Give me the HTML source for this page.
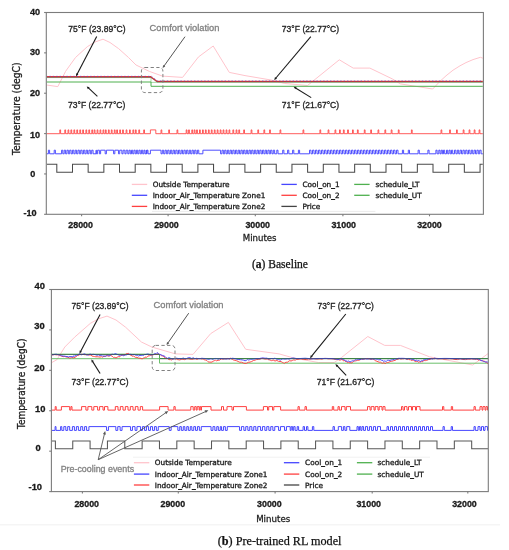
<!DOCTYPE html>
<html><head><meta charset="utf-8"><style>html,body{margin:0;padding:0;background:#fff;}svg{display:block}</style></head>
<body><svg width="509" height="550" viewBox="0 0 509 550">
<rect x="0" y="0" width="509" height="550" fill="#ffffff"/>
<clipPath id="ca"><rect x="46.8" y="12.5" width="436" height="201"/></clipPath>
<g clip-path="url(#ca)">
<polyline points="46.50,85.00 57.80,86.60 65.60,71.30 75.50,57.50 87.30,46.70 95.00,42.00 103.00,39.20 110.00,42.50 118.70,48.70 128.50,57.50 136.00,65.00 149.60,71.50 162.50,76.10 182.60,77.40 198.40,57.00 213.20,46.00 229.30,72.40 245.00,75.60 271.00,80.00 284.80,83.50 307.50,85.50 339.30,59.80 353.20,68.10 369.90,68.10 392.50,79.00 400.40,83.90 432.70,89.00 440.00,81.30 446.00,75.80 453.00,70.20 460.00,65.80 466.00,62.60 473.00,59.60 480.40,57.30 484.00,58.60" fill="none" stroke="#ffc4cc" stroke-width="1.0" stroke-linejoin="round" />
<polyline points="46.00,77.60 151.00,77.60 151.00,82.40 484.00,82.40" fill="none" stroke="#90d090" stroke-width="0.8" stroke-linejoin="round" />
<polyline points="46.00,82.00 151.00,82.00 151.00,86.30 484.00,86.30" fill="none" stroke="#4fb04f" stroke-width="1.0" stroke-linejoin="round" />
<polyline points="46.00,76.70 150.70,76.70 157.00,81.30 484.00,81.30" fill="none" stroke="#e83a3a" stroke-width="1.2" stroke-linejoin="round" />
<polyline points="46.00,77.35 150.70,77.35 157.00,81.95 484.00,81.95" fill="none" stroke="#6a3028" stroke-width="0.55" stroke-linejoin="round" />
<polyline points="46.00,76.30 151.50,76.30 157.50,80.90 484.00,80.90" fill="none" stroke="#4848e8" stroke-width="0.8" stroke-linejoin="round" stroke-dasharray="1.4 2.0" stroke-opacity="0.75"/>
<polyline points="46.00,133.70 59.80,133.70 59.80,129.90 60.60,129.90 60.60,133.70 64.80,133.70 64.80,129.90 65.60,129.90 65.60,133.70 68.00,133.70 68.00,129.90 68.80,129.90 68.80,133.70 70.90,133.70 70.90,129.90 71.70,129.90 71.70,133.70 73.90,133.70 73.90,129.90 74.70,129.90 74.70,133.70 76.80,133.70 76.80,129.90 77.60,129.90 77.60,133.70 79.80,133.70 79.80,129.90 80.60,129.90 80.60,133.70 82.70,133.70 82.70,129.90 83.50,129.90 83.50,133.70 85.90,133.70 85.90,129.90 86.70,129.90 86.70,133.70 88.80,133.70 88.80,129.90 89.60,129.90 89.60,133.70 91.80,133.70 91.80,129.90 92.60,129.90 92.60,133.70 94.20,133.70 94.20,129.90 95.00,129.90 95.00,133.70 97.10,133.70 97.10,129.90 97.90,129.90 97.90,133.70 100.00,133.70 100.00,129.90 100.80,129.90 100.80,133.70 103.00,133.70 103.00,129.90 103.80,129.90 103.80,133.70 105.40,133.70 105.40,129.90 106.20,129.90 106.20,133.70 108.40,133.70 108.40,129.90 109.20,129.90 109.20,133.70 111.30,133.70 111.30,129.90 112.10,129.90 112.10,133.70 114.30,133.70 114.30,129.90 115.10,129.90 115.10,133.70 116.70,133.70 116.70,129.90 117.50,129.90 117.50,133.70 119.70,133.70 119.70,129.90 120.50,129.90 120.50,133.70 122.60,133.70 122.60,129.90 123.40,129.90 123.40,133.70 126.10,133.70 126.10,129.90 126.90,129.90 126.90,133.70 129.50,133.70 129.50,129.90 130.30,129.90 130.30,133.70 132.90,133.70 132.90,129.90 133.70,129.90 133.70,133.70 135.40,133.70 135.40,129.90 136.20,129.90 136.20,133.70 138.80,133.70 138.80,129.90 139.60,129.90 139.60,133.70 143.70,133.70 143.70,129.90 144.50,129.90 144.50,133.70 150.40,133.70 150.40,129.90 155.80,129.90 155.80,133.70 161.00,133.70 161.00,129.90 161.80,129.90 161.80,133.70 168.70,133.70 168.70,129.90 169.50,129.90 169.50,133.70 177.00,133.70 177.00,129.90 177.80,129.90 177.80,133.70 186.20,133.70 186.20,129.90 187.00,129.90 187.00,133.70 188.60,133.70 188.60,129.90 189.40,129.90 189.40,133.70 191.80,133.70 191.80,129.90 192.60,129.90 192.60,133.70 194.20,133.70 194.20,129.90 195.00,129.90 195.00,133.70 196.60,133.70 196.60,129.90 197.40,129.90 197.40,133.70 199.50,133.70 199.50,129.90 200.30,129.90 200.30,133.70 202.50,133.70 202.50,129.90 203.30,129.90 203.30,133.70 205.40,133.70 205.40,129.90 206.20,129.90 206.20,133.70 208.40,133.70 208.40,129.90 209.20,129.90 209.20,133.70 211.30,133.70 211.30,129.90 212.10,129.90 212.10,133.70 214.30,133.70 214.30,129.90 215.10,129.90 215.10,133.70 217.20,133.70 217.20,129.90 218.00,129.90 218.00,133.70 220.20,133.70 220.20,129.90 221.00,129.90 221.00,133.70 223.10,133.70 223.10,129.90 223.90,129.90 223.90,133.70 226.10,133.70 226.10,129.90 226.90,129.90 226.90,133.70 229.00,133.70 229.00,129.90 229.80,129.90 229.80,133.70 232.90,133.70 232.90,129.90 233.70,129.90 233.70,133.70 236.10,133.70 236.10,129.90 236.90,129.90 236.90,133.70 238.80,133.70 238.80,129.90 239.60,129.90 239.60,133.70 243.70,133.70 243.70,129.90 244.50,129.90 244.50,133.70 251.10,133.70 251.10,129.90 251.90,129.90 251.90,133.70 257.80,133.70 257.80,129.90 258.60,129.90 258.60,133.70 263.90,133.70 263.90,129.90 264.70,129.90 264.70,133.70 269.60,133.70 269.60,129.90 270.40,129.90 270.40,133.70 280.00,133.70 280.00,129.90 280.80,129.90 280.80,133.70 303.00,133.70 303.00,129.90 303.80,129.90 303.80,133.70 319.90,133.70 319.90,129.90 320.70,129.90 320.70,133.70 328.10,133.70 328.10,129.90 328.90,129.90 328.90,133.70 335.00,133.70 335.00,129.90 335.80,129.90 335.80,133.70 339.50,133.70 339.50,129.90 340.30,129.90 340.30,133.70 343.40,133.70 343.40,129.90 344.20,129.90 344.20,133.70 347.60,133.70 347.60,129.90 348.40,129.90 348.40,133.70 352.50,133.70 352.50,129.90 353.30,129.90 353.30,133.70 357.40,133.70 357.40,129.90 358.20,129.90 358.20,133.70 364.30,133.70 364.30,129.90 365.10,129.90 365.10,133.70 370.70,133.70 370.70,129.90 371.50,129.90 371.50,133.70 378.00,133.70 378.00,129.90 378.80,129.90 378.80,133.70 384.90,133.70 384.90,129.90 385.70,129.90 385.70,133.70 391.20,133.70 391.20,129.90 392.00,129.90 392.00,133.70 398.30,133.70 398.30,129.90 399.10,129.90 399.10,133.70 411.40,133.70 411.40,129.90 412.20,129.90 412.20,133.70 441.00,133.70 441.00,129.90 441.80,129.90 441.80,133.70 449.60,133.70 449.60,129.90 450.40,129.90 450.40,133.70 456.50,133.70 456.50,129.90 457.30,129.90 457.30,133.70 463.20,133.70 463.20,129.90 464.00,129.90 464.00,133.70 469.10,133.70 469.10,129.90 469.90,129.90 469.90,133.70 474.20,133.70 474.20,129.90 475.00,129.90 475.00,133.70 479.10,133.70 479.10,129.90 479.90,129.90 479.90,133.70 484.00,133.70" fill="none" stroke="#ff4040" stroke-width="0.85" stroke-linejoin="round" />
<polyline points="46.00,153.80 48.40,153.80 48.40,150.20 49.60,150.20 49.60,153.80 54.20,153.80 54.20,150.20 55.40,150.20 55.40,153.80 61.60,153.80 61.60,150.20 62.80,150.20 62.80,153.80 64.20,153.80 64.20,150.20 65.58,150.20 65.58,153.80 66.95,153.80 66.95,150.20 68.33,150.20 68.33,153.80 69.70,153.80 69.70,150.20 71.08,150.20 71.08,153.80 72.45,153.80 72.45,150.20 73.83,150.20 73.83,153.80 75.20,153.80 75.20,150.20 76.58,150.20 76.58,153.80 77.95,153.80 77.95,150.20 79.33,150.20 79.33,153.80 80.70,153.80 80.70,150.20 82.08,150.20 82.08,153.80 83.45,153.80 83.45,150.20 84.83,150.20 84.83,153.80 86.20,153.80 86.20,150.20 87.58,150.20 87.58,153.80 88.95,153.80 88.95,150.20 90.33,150.20 90.33,153.80 91.70,153.80 91.70,150.20 93.08,150.20 93.08,153.80 96.00,153.80 96.00,150.20 96.38,150.20 96.38,153.80 97.62,153.80 97.62,150.20 99.38,150.20 99.38,153.80 100.62,153.80 100.62,150.20 105.17,150.20 105.17,153.80 106.42,153.80 106.42,150.20 113.58,150.20 113.58,153.80 114.83,153.80 114.83,150.20 118.47,150.20 118.47,153.80 119.72,153.80 119.72,150.20 121.88,150.20 121.88,153.80 123.12,153.80 123.12,150.20 124.88,150.20 124.88,153.80 126.12,153.80 126.12,150.20 127.78,150.20 127.78,153.80 129.03,153.80 129.03,150.20 130.28,150.20 130.28,153.80 131.53,153.80 131.53,150.20 132.68,150.20 132.68,153.80 133.93,153.80 133.93,150.20 135.18,150.20 135.18,153.80 136.43,153.80 136.43,150.20 137.68,150.20 137.68,153.80 138.93,153.80 138.93,150.20 140.18,150.20 140.18,153.80 141.43,153.80 141.43,150.20 142.68,150.20 142.68,153.80 143.93,153.80 143.93,150.20 144.97,150.20 144.97,153.80 146.22,153.80 146.22,150.20 146.60,150.20 146.60,153.80 147.00,153.80 147.00,150.20 148.00,150.20 148.00,153.80 150.40,153.80 150.40,150.20 161.00,150.20 161.00,153.80 162.30,153.80 162.30,150.20 163.65,150.20 163.65,153.80 165.00,153.80 165.00,150.20 166.35,150.20 166.35,153.80 167.70,153.80 167.70,150.20 169.05,150.20 169.05,153.80 170.40,153.80 170.40,150.20 171.75,150.20 171.75,153.80 173.10,153.80 173.10,150.20 174.45,150.20 174.45,153.80 175.80,153.80 175.80,150.20 177.15,150.20 177.15,153.80 178.50,153.80 178.50,150.20 179.85,150.20 179.85,153.80 181.20,153.80 181.20,150.20 182.55,150.20 182.55,153.80 183.90,153.80 183.90,150.20 185.25,150.20 185.25,153.80 186.60,153.80 186.60,150.20 187.95,150.20 187.95,153.80 189.30,153.80 189.30,150.20 190.65,150.20 190.65,153.80 192.00,153.80 192.00,150.20 193.35,150.20 193.35,153.80 194.70,153.80 194.70,150.20 196.05,150.20 196.05,153.80 197.40,153.80 197.40,150.20 198.75,150.20 198.75,153.80 202.90,153.80 202.90,150.20 220.60,150.20 220.60,153.80 222.00,153.80 222.00,150.20 223.35,150.20 223.35,153.80 224.70,153.80 224.70,150.20 226.05,150.20 226.05,153.80 227.40,153.80 227.40,150.20 228.75,150.20 228.75,153.80 230.10,153.80 230.10,150.20 231.45,150.20 231.45,153.80 232.80,153.80 232.80,150.20 234.15,150.20 234.15,153.80 235.50,153.80 235.50,150.20 236.85,150.20 236.85,153.80 238.20,153.80 238.20,150.20 239.55,150.20 239.55,153.80 240.90,153.80 240.90,150.20 242.25,150.20 242.25,153.80 243.60,153.80 243.60,150.20 244.95,150.20 244.95,153.80 246.30,153.80 246.30,150.20 247.65,150.20 247.65,153.80 249.00,153.80 249.00,150.20 250.35,150.20 250.35,153.80 251.70,153.80 251.70,150.20 253.05,150.20 253.05,153.80 254.40,153.80 254.40,150.20 255.75,150.20 255.75,153.80 257.10,153.80 257.10,150.20 258.45,150.20 258.45,153.80 259.80,153.80 259.80,150.20 261.15,150.20 261.15,153.80 262.50,153.80 262.50,150.20 263.85,150.20 263.85,153.80 265.20,153.80 265.20,150.20 266.55,150.20 266.55,153.80 267.90,153.80 267.90,150.20 269.25,150.20 269.25,153.80 270.60,153.80 270.60,150.20 271.95,150.20 271.95,153.80 273.30,153.80 273.30,150.20 274.65,150.20 274.65,153.80 276.80,153.80 276.80,150.20 278.00,150.20 278.00,153.80 282.70,153.80 282.70,150.20 283.90,150.20 283.90,153.80 287.60,153.80 287.60,150.20 288.80,150.20 288.80,153.80 292.60,153.80 292.60,150.20 293.80,150.20 293.80,153.80 298.40,153.80 298.40,150.20 299.60,150.20 299.60,153.80 309.50,153.80 309.50,150.20 311.00,150.20 311.00,153.80 312.50,153.80 312.50,150.20 314.00,150.20 314.00,153.80 315.50,153.80 315.50,150.20 317.00,150.20 317.00,153.80 318.50,153.80 318.50,150.20 320.00,150.20 320.00,153.80 321.50,153.80 321.50,150.20 323.00,150.20 323.00,153.80 324.50,153.80 324.50,150.20 326.00,150.20 326.00,153.80 327.50,153.80 327.50,150.20 329.00,150.20 329.00,153.80 330.50,153.80 330.50,150.20 332.00,150.20 332.00,153.80 333.50,153.80 333.50,150.20 335.00,150.20 335.00,153.80 336.50,153.80 336.50,150.20 338.00,150.20 338.00,153.80 339.50,153.80 339.50,150.20 341.00,150.20 341.00,153.80 342.50,153.80 342.50,150.20 344.00,150.20 344.00,153.80 345.50,153.80 345.50,150.20 347.00,150.20 347.00,153.80 348.50,153.80 348.50,150.20 350.00,150.20 350.00,153.80 351.50,153.80 351.50,150.20 353.00,150.20 353.00,153.80 354.50,153.80 354.50,150.20 356.00,150.20 356.00,153.80 357.50,153.80 357.50,150.20 359.00,150.20 359.00,153.80 360.50,153.80 360.50,150.20 362.00,150.20 362.00,153.80 363.50,153.80 363.50,150.20 365.00,150.20 365.00,153.80 366.50,153.80 366.50,150.20 368.00,150.20 368.00,153.80 369.50,153.80 369.50,150.20 371.00,150.20 371.00,153.80 372.50,153.80 372.50,150.20 374.00,150.20 374.00,153.80 375.50,153.80 375.50,150.20 377.00,150.20 377.00,153.80 378.50,153.80 378.50,150.20 380.00,150.20 380.00,153.80 381.50,153.80 381.50,150.20 383.00,150.20 383.00,153.80 384.50,153.80 384.50,150.20 386.00,150.20 386.00,153.80 387.50,153.80 387.50,150.20 389.00,150.20 389.00,153.80 390.50,153.80 390.50,150.20 392.00,150.20 392.00,153.80 393.50,153.80 393.50,150.20 395.00,150.20 395.00,153.80 396.50,153.80 396.50,150.20 398.00,150.20 398.00,153.80 402.40,153.80 402.40,150.20 403.60,150.20 403.60,153.80 408.30,153.80 408.30,150.20 409.50,150.20 409.50,153.80 418.10,153.80 418.10,150.20 419.30,150.20 419.30,153.80 427.90,153.80 427.90,150.20 429.10,150.20 429.10,153.80 435.90,153.80 435.90,150.20 437.10,150.20 437.10,153.80 438.80,153.80 438.80,150.20 440.00,150.20 440.00,153.80 441.20,153.80 441.20,150.20 442.40,150.20 442.40,153.80 443.50,153.80 443.50,150.20 444.70,150.20 444.70,153.80 446.50,153.80 446.50,150.20 447.70,150.20 447.70,153.80 449.00,153.80 449.00,150.20 450.20,150.20 450.20,153.80 451.50,153.80 451.50,150.20 452.70,150.20 452.70,153.80 454.50,153.80 454.50,150.20 455.90,150.20 455.90,153.80 457.30,153.80 457.30,150.20 458.70,150.20 458.70,153.80 460.10,153.80 460.10,150.20 461.50,150.20 461.50,153.80 462.90,153.80 462.90,150.20 464.30,150.20 464.30,153.80 465.70,153.80 465.70,150.20 467.10,150.20 467.10,153.80 468.50,153.80 468.50,150.20 469.90,150.20 469.90,153.80 471.30,153.80 471.30,150.20 472.70,150.20 472.70,153.80 474.10,153.80 474.10,150.20 475.50,150.20 475.50,153.80 476.90,153.80 476.90,150.20 478.30,150.20 478.30,153.80 479.70,153.80 479.70,150.20 481.10,150.20 481.10,153.80 484.00,153.80" fill="none" stroke="#4646ff" stroke-width="0.95" stroke-linejoin="round" />
<polyline points="46.00,164.30 56.80,164.30 56.80,172.30 72.50,172.30 72.50,164.30 88.15,164.30 88.15,172.30 103.85,172.30 103.85,164.30 119.50,164.30 119.50,172.30 135.20,172.30 135.20,164.30 150.85,164.30 150.85,172.30 166.55,172.30 166.55,164.30 182.20,164.30 182.20,172.30 197.90,172.30 197.90,164.30 213.55,164.30 213.55,172.30 229.25,172.30 229.25,164.30 244.90,164.30 244.90,172.30 260.60,172.30 260.60,164.30 276.25,164.30 276.25,172.30 291.95,172.30 291.95,164.30 307.60,164.30 307.60,172.30 323.30,172.30 323.30,164.30 338.95,164.30 338.95,172.30 354.65,172.30 354.65,164.30 370.30,164.30 370.30,172.30 386.00,172.30 386.00,164.30 401.65,164.30 401.65,172.30 417.35,172.30 417.35,164.30 433.00,164.30 433.00,172.30 448.70,172.30 448.70,164.30 464.35,164.30 464.35,172.30 480.05,172.30 480.05,164.30 484.00,164.30" fill="none" stroke="#4a4a4a" stroke-width="1.05" stroke-linejoin="miter" />
</g>
<rect x="46.30" y="12.50" width="437.10" height="201.80" fill="none" stroke="#7c7c7c" stroke-width="1.1"/>
<line x1="44.10" y1="12.50" x2="46.30" y2="12.50" stroke="#7c7c7c" stroke-width="1.1" />
<line x1="44.10" y1="52.86" x2="46.30" y2="52.86" stroke="#7c7c7c" stroke-width="1.1" />
<line x1="44.10" y1="93.22" x2="46.30" y2="93.22" stroke="#7c7c7c" stroke-width="1.1" />
<line x1="44.10" y1="133.58" x2="46.30" y2="133.58" stroke="#7c7c7c" stroke-width="1.1" />
<line x1="44.10" y1="173.94" x2="46.30" y2="173.94" stroke="#7c7c7c" stroke-width="1.1" />
<line x1="44.10" y1="214.30" x2="46.30" y2="214.30" stroke="#7c7c7c" stroke-width="1.1" />
<line x1="81.60" y1="214.30" x2="81.60" y2="216.30" stroke="#7c7c7c" stroke-width="1.1" />
<line x1="168.10" y1="214.30" x2="168.10" y2="216.30" stroke="#7c7c7c" stroke-width="1.1" />
<line x1="255.30" y1="214.30" x2="255.30" y2="216.30" stroke="#7c7c7c" stroke-width="1.1" />
<line x1="342.90" y1="214.30" x2="342.90" y2="216.30" stroke="#7c7c7c" stroke-width="1.1" />
<line x1="429.50" y1="214.30" x2="429.50" y2="216.30" stroke="#7c7c7c" stroke-width="1.1" />
<text x="40.10" y="14.80" font-size="9.1" fill="#1a1a1a" font-weight="bold" text-anchor="end" font-family='"Liberation Sans", sans-serif' stroke="#1a1a1a" stroke-width="0.3" >40</text>
<text x="40.20" y="54.90" font-size="9.1" fill="#1a1a1a" font-weight="bold" text-anchor="end" font-family='"Liberation Sans", sans-serif' stroke="#1a1a1a" stroke-width="0.3" >30</text>
<text x="40.20" y="96.40" font-size="9.1" fill="#1a1a1a" font-weight="bold" text-anchor="end" font-family='"Liberation Sans", sans-serif' stroke="#1a1a1a" stroke-width="0.3" >20</text>
<text x="40.00" y="137.80" font-size="9.1" fill="#1a1a1a" font-weight="bold" text-anchor="end" font-family='"Liberation Sans", sans-serif' stroke="#1a1a1a" stroke-width="0.3" >10</text>
<text x="35.40" y="176.90" font-size="9.1" fill="#1a1a1a" font-weight="bold" text-anchor="end" font-family='"Liberation Sans", sans-serif' stroke="#1a1a1a" stroke-width="0.3" >0</text>
<text x="36.60" y="216.20" font-size="9.1" fill="#1a1a1a" font-weight="bold" text-anchor="end" font-family='"Liberation Sans", sans-serif' stroke="#1a1a1a" stroke-width="0.3" >-10</text>
<text x="80.60" y="228.20" font-size="8.8" fill="#1a1a1a" font-weight="bold" text-anchor="middle" font-family='"Liberation Sans", sans-serif' textLength="24.60" lengthAdjust="spacingAndGlyphs" stroke="#1a1a1a" stroke-width="0.3" >28000</text>
<text x="166.50" y="228.20" font-size="8.8" fill="#1a1a1a" font-weight="bold" text-anchor="middle" font-family='"Liberation Sans", sans-serif' textLength="24.60" lengthAdjust="spacingAndGlyphs" stroke="#1a1a1a" stroke-width="0.3" >29000</text>
<text x="257.70" y="228.20" font-size="8.8" fill="#1a1a1a" font-weight="bold" text-anchor="middle" font-family='"Liberation Sans", sans-serif' textLength="24.60" lengthAdjust="spacingAndGlyphs" stroke="#1a1a1a" stroke-width="0.3" >30000</text>
<text x="343.70" y="228.20" font-size="8.8" fill="#1a1a1a" font-weight="bold" text-anchor="middle" font-family='"Liberation Sans", sans-serif' textLength="24.60" lengthAdjust="spacingAndGlyphs" stroke="#1a1a1a" stroke-width="0.3" >31000</text>
<text x="429.50" y="228.20" font-size="8.8" fill="#1a1a1a" font-weight="bold" text-anchor="middle" font-family='"Liberation Sans", sans-serif' textLength="24.60" lengthAdjust="spacingAndGlyphs" stroke="#1a1a1a" stroke-width="0.3" >32000</text>
<text transform="translate(19.6,108.7) rotate(-90)" x="0" y="0" font-size="9.6" fill="#222" stroke="#222" stroke-width="0.3" text-anchor="middle" font-family='"DejaVu Sans", sans-serif' textLength="92.7" lengthAdjust="spacingAndGlyphs">Temperature (degC)</text>
<text x="259.70" y="241.00" font-size="9.3" fill="#222" font-weight="normal" text-anchor="middle" font-family='"DejaVu Sans", sans-serif' textLength="33.70" lengthAdjust="spacingAndGlyphs" stroke="#222" stroke-width="0.3" >Minutes</text>
<text x="251.9" y="267.9" font-size="11.6" fill="#111" stroke="#111" stroke-width="0.25" font-family='"Liberation Serif", serif' textLength="56.1" lengthAdjust="spacingAndGlyphs">(<tspan font-weight="bold">a</tspan>) Baseline</text>
<line x1="131.80" y1="184.40" x2="147.20" y2="184.40" stroke="#ffc4cc" stroke-width="1.3" />
<text x="152.70" y="187.10" font-size="7.32" fill="#1a1a1a" font-weight="normal" text-anchor="start" font-family='"DejaVu Sans", sans-serif' stroke="#1a1a1a" stroke-width="0.32" >Outside Temperature</text>
<line x1="131.80" y1="195.30" x2="147.20" y2="195.30" stroke="#4646ff" stroke-width="1.3" />
<text x="152.70" y="198.00" font-size="7.32" fill="#1a1a1a" font-weight="normal" text-anchor="start" font-family='"DejaVu Sans", sans-serif' stroke="#1a1a1a" stroke-width="0.32" >Indoor_Air_Temperature Zone1</text>
<line x1="131.80" y1="206.40" x2="147.20" y2="206.40" stroke="#ff4040" stroke-width="1.3" />
<text x="152.70" y="209.10" font-size="7.32" fill="#1a1a1a" font-weight="normal" text-anchor="start" font-family='"DejaVu Sans", sans-serif' stroke="#1a1a1a" stroke-width="0.32" >Indoor_Air_Temperature Zone2</text>
<line x1="281.40" y1="184.40" x2="296.80" y2="184.40" stroke="#4646ff" stroke-width="1.3" />
<text x="302.40" y="187.10" font-size="7.32" fill="#1a1a1a" font-weight="normal" text-anchor="start" font-family='"DejaVu Sans", sans-serif' stroke="#1a1a1a" stroke-width="0.32" >Cool_on_1</text>
<line x1="281.40" y1="195.30" x2="296.80" y2="195.30" stroke="#ff4040" stroke-width="1.3" />
<text x="302.40" y="198.00" font-size="7.32" fill="#1a1a1a" font-weight="normal" text-anchor="start" font-family='"DejaVu Sans", sans-serif' stroke="#1a1a1a" stroke-width="0.32" >Cool_on_2</text>
<line x1="281.40" y1="206.40" x2="296.80" y2="206.40" stroke="#444" stroke-width="1.3" />
<text x="302.40" y="209.10" font-size="7.32" fill="#1a1a1a" font-weight="normal" text-anchor="start" font-family='"DejaVu Sans", sans-serif' stroke="#1a1a1a" stroke-width="0.32" >Price</text>
<line x1="354.20" y1="184.40" x2="369.60" y2="184.40" stroke="#4fb04f" stroke-width="1.3" />
<text x="375.40" y="187.10" font-size="7.32" fill="#1a1a1a" font-weight="normal" text-anchor="start" font-family='"DejaVu Sans", sans-serif' stroke="#1a1a1a" stroke-width="0.32" >schedule_LT</text>
<line x1="354.20" y1="195.30" x2="369.60" y2="195.30" stroke="#4fb04f" stroke-width="1.3" />
<text x="375.40" y="198.00" font-size="7.32" fill="#1a1a1a" font-weight="normal" text-anchor="start" font-family='"DejaVu Sans", sans-serif' stroke="#1a1a1a" stroke-width="0.32" >schedule_UT</text>
<line x1="152.00" y1="211.40" x2="375.40" y2="211.40" stroke="#e6e6e6" stroke-width="0.8" />
<text x="97.00" y="31.50" font-size="8.6" fill="#222" font-weight="normal" text-anchor="middle" font-family='"Liberation Sans", sans-serif' textLength="57.30" lengthAdjust="spacingAndGlyphs" stroke="#222" stroke-width="0.3" >75°F (23.89°C)</text>
<line x1="96.70" y1="36.60" x2="77.06" y2="74.26" stroke="#1a1a1a" stroke-width="1.1" />
<polygon points="76.00,76.30 76.14,73.22 78.45,74.42" fill="#1a1a1a"/>
<text x="96.70" y="107.50" font-size="8.6" fill="#222" font-weight="normal" text-anchor="middle" font-family='"Liberation Sans", sans-serif' textLength="57.30" lengthAdjust="spacingAndGlyphs" stroke="#222" stroke-width="0.3" >73°F (22.77°C)</text>
<line x1="97.40" y1="96.30" x2="88.39" y2="87.96" stroke="#1a1a1a" stroke-width="1.1" />
<polygon points="86.70,86.40 89.64,87.35 87.87,89.26" fill="#1a1a1a"/>
<text x="184.50" y="30.60" font-size="9.0" fill="#828282" font-weight="normal" text-anchor="middle" font-family='"Liberation Sans", sans-serif' textLength="69.80" lengthAdjust="spacingAndGlyphs" stroke="#828282" stroke-width="0.3" >Comfort violation</text>
<line x1="185.00" y1="36.70" x2="163.94" y2="66.13" stroke="#555" stroke-width="1.0" />
<polygon points="162.60,68.00 163.17,64.97 165.29,66.48" fill="#555"/>
<rect x="141.4" y="67.5" width="21.5" height="25.1" rx="3.5" fill="none" stroke="#808080" stroke-width="1.0" stroke-dasharray="3.3 2.4"/>
<text x="310.50" y="31.50" font-size="8.6" fill="#222" font-weight="normal" text-anchor="middle" font-family='"Liberation Sans", sans-serif' textLength="57.30" lengthAdjust="spacingAndGlyphs" stroke="#222" stroke-width="0.3" >73°F (22.77°C)</text>
<line x1="310.80" y1="36.70" x2="275.68" y2="78.24" stroke="#1a1a1a" stroke-width="1.1" />
<polygon points="274.20,80.00 275.01,77.02 277.00,78.70" fill="#1a1a1a"/>
<text x="310.50" y="107.50" font-size="8.6" fill="#222" font-weight="normal" text-anchor="middle" font-family='"Liberation Sans", sans-serif' textLength="57.30" lengthAdjust="spacingAndGlyphs" stroke="#222" stroke-width="0.3" >71°F (21.67°C)</text>
<line x1="311.20" y1="97.60" x2="295.56" y2="87.91" stroke="#1a1a1a" stroke-width="1.1" />
<polygon points="293.60,86.70 296.66,87.07 295.30,89.28" fill="#1a1a1a"/>
<clipPath id="cb"><rect x="52" y="290" width="436" height="201"/></clipPath>
<g clip-path="url(#cb)">
<polyline points="51.50,362.70 56.90,359.70 64.80,347.00 74.60,337.20 90.30,323.40 98.00,319.00 107.00,316.10 116.00,320.00 125.70,327.30 141.40,342.00 151.80,347.00 175.40,353.90 193.00,354.40 210.70,333.60 228.40,322.40 245.70,349.30 279.10,353.90 292.90,357.80 318.30,362.50 334.20,362.50 341.30,357.70 367.80,336.50 384.70,345.40 400.40,345.40 429.50,356.80 472.70,365.00 489.00,352.90" fill="none" stroke="#ffc4cc" stroke-width="1.0" stroke-linejoin="round" />
<polyline points="51.00,354.20 159.50,354.20 159.50,358.50 489.00,358.50" fill="none" stroke="#4fb04f" stroke-width="1.0" stroke-linejoin="round" />
<polyline points="51.00,358.70 159.50,358.70 159.50,363.20 489.00,363.20" fill="none" stroke="#6cc06c" stroke-width="1.0" stroke-linejoin="round" />
<polyline points="51.00,354.45 51.73,354.60 52.70,355.02 53.88,354.55 55.19,354.67 56.58,354.89 58.00,354.65 59.53,355.36 61.22,355.97 63.00,356.69 64.78,356.45 66.47,357.11 68.00,357.15 69.36,358.04 70.63,357.90 71.81,357.08 72.93,357.95 73.98,357.73 75.00,357.17 75.94,356.86 76.78,356.00 77.56,355.46 78.33,355.64 79.13,354.78 80.00,354.66 80.94,354.53 81.93,354.15 82.94,354.52 83.96,354.43 84.99,354.86 86.00,354.52 86.98,354.72 87.93,354.69 88.88,355.03 89.85,355.00 90.88,355.03 92.00,356.05 93.22,356.34 94.52,356.55 95.88,356.80 97.26,356.73 98.64,356.90 100.00,357.07 101.33,356.69 102.67,357.12 104.00,356.28 105.33,356.33 106.67,355.50 108.00,356.00 109.36,356.04 110.74,355.48 112.12,356.19 113.48,357.44 114.78,357.32 116.00,358.03 117.12,357.28 118.15,356.65 119.12,356.87 120.07,356.60 121.02,355.61 122.00,355.05 123.03,354.98 124.11,355.30 125.19,354.70 126.22,353.68 127.17,353.60 128.00,353.36 128.60,353.39 129.00,354.39 129.31,354.00 129.67,354.78 130.19,355.04 131.00,355.16 132.20,356.23 133.70,356.15 135.38,357.33 137.07,357.33 138.66,358.13 140.00,358.18 141.06,358.32 141.96,359.02 142.75,358.65 143.48,357.84 144.21,358.19 145.00,357.18 145.82,357.10 146.63,357.26 147.44,356.66 148.26,355.69 149.11,356.33 150.00,355.18 150.98,355.00 152.04,355.37 153.12,354.72 154.19,354.54 155.16,354.16 156.00,354.05 156.64,354.43 157.11,353.87 157.50,354.08 157.89,353.71 158.36,353.79 159.00,354.51 159.84,354.35 160.81,355.01 161.88,356.00 162.96,355.95 164.02,356.58 165.00,357.95 165.89,358.30 166.74,358.09 167.56,358.41 168.37,359.34 169.18,359.81 170.00,359.17 170.83,360.04 171.67,359.89 172.50,359.45 173.33,359.08 174.17,358.61 175.00,358.49 175.78,359.57 176.48,358.91 177.19,359.59 177.96,359.26 178.88,360.01 180.00,359.81 181.38,359.43 182.96,359.19 184.69,359.64 186.48,358.76 188.28,358.79 190.00,359.07 191.72,359.34 193.52,359.04 195.31,358.65 197.04,359.36 198.62,358.61 200.00,358.47 201.11,358.84 202.00,359.16 202.75,358.89 203.44,359.20 204.17,359.62 205.00,360.08 205.93,359.92 206.89,360.59 207.88,361.62 208.89,362.12 209.93,362.06 211.00,362.21 212.07,361.99 213.15,361.22 214.25,360.71 215.41,360.25 216.65,360.80 218.00,360.22 219.53,360.20 221.22,358.83 223.00,359.18 224.78,358.74 226.47,358.82 228.00,358.30 229.31,359.11 230.44,358.26 231.50,359.02 232.56,359.54 233.69,360.07 235.00,360.26 236.49,360.71 238.11,361.43 239.81,362.24 241.56,362.23 243.30,363.03 245.00,363.44 246.67,363.24 248.33,362.30 250.00,362.10 251.67,361.51 253.33,360.56 255.00,360.14 256.72,359.50 258.52,359.37 260.31,359.09 262.04,358.26 263.62,358.71 265.00,359.04 266.06,358.99 266.85,359.03 267.50,358.94 268.15,359.65 268.94,359.80 270.00,359.93 271.44,360.62 273.15,360.04 275.00,361.03 276.85,360.48 278.56,361.36 280.00,361.48 281.11,361.50 282.00,362.36 282.75,362.49 283.44,362.91 284.17,363.44 285.00,362.73 285.91,362.28 286.81,362.24 287.75,362.18 288.74,361.15 289.81,360.63 291.00,361.05 292.31,360.46 293.74,359.91 295.25,360.13 296.81,359.27 298.41,359.44 300.00,358.77 301.61,358.94 303.26,359.34 304.94,359.49 306.63,359.50 308.32,358.98 310.00,359.19 311.64,358.83 313.26,358.53 314.88,358.81 316.52,359.08 318.22,359.01 320.00,358.83 321.93,359.12 324.00,358.45 326.12,358.42 328.22,358.84 330.21,358.76 332.00,358.79 333.60,359.08 335.07,359.37 336.44,359.28 337.70,359.16 338.89,359.83 340.00,360.13 341.01,359.73 341.89,359.54 342.69,359.74 343.44,360.94 344.20,360.31 345.00,361.33 345.83,361.53 346.67,361.67 347.50,362.64 348.33,362.18 349.17,362.59 350.00,363.05 350.83,362.47 351.67,363.07 352.50,362.03 353.33,361.48 354.17,360.95 355.00,361.24 355.76,360.75 356.44,360.67 357.12,360.43 357.89,360.35 358.82,360.29 360.00,359.80 361.53,359.09 363.37,359.22 365.38,358.75 367.41,358.47 369.33,358.97 371.00,359.34 372.40,359.00 373.63,359.50 374.75,360.06 375.81,360.95 376.88,361.23 378.00,361.73 379.19,362.22 380.41,362.17 381.62,362.92 382.81,363.31 383.95,362.58 385.00,363.58 385.91,363.28 386.70,362.45 387.44,362.55 388.19,362.42 389.02,362.39 390.00,361.46 391.17,361.29 392.48,361.18 393.88,360.61 395.30,360.31 396.69,359.37 398.00,359.27 399.25,358.56 400.48,358.97 401.69,358.98 402.85,358.74 403.96,358.81 405.00,358.28 405.95,359.11 406.81,359.33 407.62,359.50 408.41,359.21 409.19,359.71 410.00,359.40 410.83,360.28 411.67,360.47 412.50,360.18 413.33,360.16 414.17,360.81 415.00,361.16 415.83,361.62 416.67,361.55 417.50,361.27 418.33,362.31 419.17,361.60 420.00,362.43 420.83,361.63 421.67,361.60 422.50,361.82 423.33,360.80 424.17,360.49 425.00,360.62 425.78,360.58 426.48,360.44 427.19,360.00 427.96,360.02 428.88,359.28 430.00,359.59 431.32,358.49 432.78,358.52 434.38,358.75 436.11,358.42 437.99,358.87 440.00,358.75 442.21,358.66 444.63,359.09 447.19,358.88 449.81,358.73 452.44,358.90 455.00,359.48 457.58,359.56 460.26,358.80 462.94,359.49 465.52,359.60 467.91,359.10 470.00,359.18 471.77,358.82 473.30,359.24 474.62,359.27 475.81,359.46 476.92,358.94 478.00,360.12 479.00,359.79 479.85,359.85 480.62,360.51 481.37,360.49 482.14,360.68 483.00,361.21 484.01,360.90 485.15,361.89 486.31,362.24 487.41,363.31 488.34,363.68 489.00,363.25" fill="none" stroke="#ff4040" stroke-width="0.95" stroke-linejoin="round" />
<polyline points="51.00,354.37 51.97,354.67 53.30,354.77 54.88,354.26 56.59,354.25 58.34,354.86 60.00,354.93 61.67,355.83 63.44,356.03 65.25,356.28 67.00,356.57 68.61,356.96 70.00,356.47 71.12,356.82 72.04,356.38 72.81,357.09 73.52,355.84 74.22,356.51 75.00,355.39 75.78,355.88 76.48,355.18 77.19,354.97 77.96,355.21 78.88,353.99 80.00,353.87 81.38,354.81 82.96,354.30 84.69,353.81 86.48,354.93 88.28,354.95 90.00,354.04 91.72,354.51 93.52,354.31 95.31,354.68 97.04,355.22 98.62,354.84 100.00,355.64 101.12,355.03 102.04,355.36 102.81,356.32 103.52,355.97 104.22,356.09 105.00,356.32 105.83,356.07 106.67,355.77 107.50,355.09 108.33,355.65 109.17,355.67 110.00,355.47 110.81,354.91 111.59,354.35 112.38,354.17 113.19,354.42 114.05,354.31 115.00,353.64 116.03,353.90 117.11,354.30 118.25,354.78 119.44,355.43 120.69,355.29 122.00,354.83 123.38,355.72 124.85,355.06 126.38,354.91 127.93,354.30 129.48,354.36 131.00,354.27 132.52,354.87 134.07,354.35 135.62,355.24 137.15,355.14 138.62,356.03 140.00,355.34 141.29,355.54 142.52,355.38 143.69,355.40 144.81,354.36 145.91,354.54 147.00,354.05 148.08,354.08 149.15,354.34 150.19,354.99 151.19,354.49 152.13,355.09 153.00,354.10 153.74,354.81 154.33,353.82 154.88,353.25 155.44,353.61 156.12,353.63 157.00,352.61 158.14,353.29 159.48,354.51 160.94,354.75 162.41,355.42 163.79,355.86 165.00,356.45 165.95,357.52 166.70,358.24 167.38,358.47 168.07,358.05 168.91,357.60 170.00,358.09 171.38,358.75 172.96,358.87 174.69,358.68 176.48,358.20 178.28,358.55 180.00,358.47 181.67,358.60 183.33,358.06 185.00,358.77 186.67,358.59 188.33,357.63 190.00,357.75 191.66,358.47 193.30,357.83 194.94,358.72 196.59,358.31 198.28,358.64 200.00,358.75 201.80,358.25 203.67,358.45 205.56,358.52 207.44,359.13 209.27,359.21 211.00,358.56 212.55,359.43 213.93,358.79 215.25,358.47 216.63,358.59 218.18,359.14 220.00,358.57 222.21,358.60 224.74,358.89 227.44,358.90 230.15,358.65 232.72,358.28 235.00,358.61 236.99,359.24 238.81,359.51 240.50,359.71 242.07,359.86 243.56,360.21 245.00,360.78 246.27,360.48 247.33,359.55 248.31,360.00 249.33,359.81 250.52,359.31 252.00,359.18 253.85,359.05 256.00,358.51 258.31,358.77 260.67,358.26 262.94,357.92 265.00,358.22 266.90,358.17 268.74,358.91 270.50,358.62 272.15,358.48 273.66,358.64 275.00,358.15 276.11,358.84 277.00,359.32 277.75,359.27 278.44,359.38 279.17,359.80 280.00,359.79 280.85,360.15 281.63,359.29 282.44,358.95 283.37,358.92 284.53,359.11 286.00,359.01 287.59,358.80 289.19,359.08 291.00,358.38 293.26,357.99 296.19,358.56 300.00,358.53 305.30,358.24 312.04,358.86 319.44,358.51 326.74,358.45 333.18,358.66 338.00,359.53 340.98,358.60 342.70,359.27 343.56,359.45 343.96,359.64 344.31,360.19 345.00,360.16 345.95,361.23 346.81,360.96 347.62,361.43 348.41,360.97 349.19,361.44 350.00,361.63 350.83,361.80 351.67,360.87 352.50,360.83 353.33,360.98 354.17,360.65 355.00,359.67 355.76,359.84 356.44,359.91 357.12,359.28 357.89,359.45 358.82,359.30 360.00,359.57 361.51,359.00 363.30,359.11 365.25,358.70 367.26,359.17 369.21,358.72 371.00,359.00 372.66,358.94 374.30,359.03 375.88,359.00 377.37,359.30 378.75,359.87 380.00,359.70 381.06,359.64 381.96,360.77 382.75,360.37 383.48,361.34 384.21,361.07 385.00,360.87 385.78,361.40 386.48,361.31 387.19,360.44 387.96,360.00 388.88,360.39 390.00,360.41 391.38,359.89 392.96,359.80 394.69,359.05 396.48,359.01 398.28,358.36 400.00,358.39 401.72,358.32 403.52,358.36 405.31,358.47 407.04,359.09 408.62,358.47 410.00,358.65 411.12,358.84 412.04,359.86 412.81,359.50 413.52,359.11 414.22,360.23 415.00,360.45 415.83,360.58 416.67,360.24 417.50,360.91 418.33,360.58 419.17,360.51 420.00,361.44 420.83,361.35 421.67,360.47 422.50,361.08 423.33,359.84 424.17,359.96 425.00,359.42 425.78,359.43 426.48,359.24 427.19,359.73 427.96,359.05 428.88,358.77 430.00,358.62 431.09,358.65 432.04,359.20 433.12,358.80 434.63,358.12 436.83,358.76 440.00,358.54 444.73,358.42 450.93,358.51 457.81,358.67 464.63,358.89 470.61,358.60 475.00,358.86 477.57,358.81 478.89,359.21 479.38,359.13 479.44,359.41 479.51,359.78 480.00,360.26 480.84,359.98 481.70,361.01 482.56,360.76 483.41,361.46 484.22,361.51 485.00,362.05 485.77,361.93 486.56,361.82 487.31,361.98 488.00,362.39 488.58,362.70 489.00,362.91" fill="none" stroke="#4646ff" stroke-width="0.95" stroke-linejoin="round" />
<polyline points="51.00,354.50 159.50,354.50" fill="none" stroke="#264a3a" stroke-width="0.6" stroke-linejoin="round" />
<polyline points="159.50,358.80 489.00,358.80" fill="none" stroke="#264a3a" stroke-width="0.6" stroke-linejoin="round" />
<polyline points="51.00,410.10 55.20,410.10 55.20,406.60 56.20,406.60 56.20,410.10 61.40,410.10 61.40,406.60 69.70,406.60 69.70,410.10 70.90,410.10 70.90,406.60 72.00,406.60 72.00,410.10 81.60,410.10 81.60,406.60 85.90,406.60 85.90,410.10 87.90,410.10 87.90,406.60 91.80,406.60 91.80,410.10 93.80,410.10 93.80,406.60 97.60,406.60 97.60,410.10 99.60,410.10 99.60,406.60 103.00,406.60 103.00,410.10 104.50,410.10 104.50,406.60 107.90,406.60 107.90,410.10 115.30,410.10 115.30,406.60 118.00,406.60 118.00,410.10 120.30,410.10 120.30,406.60 123.00,406.60 123.00,410.10 125.30,410.10 125.30,406.60 128.00,406.60 128.00,410.10 130.30,410.10 130.30,406.60 133.00,406.60 133.00,410.10 135.30,410.10 135.30,406.60 138.00,406.60 138.00,410.10 140.30,410.10 140.30,406.60 142.60,406.60 142.60,410.10 159.60,410.10 159.60,406.60 168.10,406.60 168.10,410.10 173.90,410.10 173.90,406.60 175.20,406.60 175.20,410.10 190.80,410.10 190.80,406.60 193.20,406.60 193.20,410.10 194.70,410.10 194.70,406.60 196.20,406.60 196.20,410.10 197.20,410.10 197.20,406.60 199.10,406.60 199.10,410.10 199.80,410.10 199.80,406.60 200.80,406.60 200.80,410.10 201.50,410.10 201.50,406.60 211.00,406.60 211.00,410.10 221.50,410.10 221.50,406.60 223.50,406.60 223.50,410.10 227.00,410.10 227.00,406.60 232.00,406.60 232.00,410.10 233.50,410.10 233.50,406.60 246.40,406.60 246.40,410.10 263.40,410.10 263.40,406.60 267.50,406.60 267.50,410.10 268.70,410.10 268.70,406.60 272.50,406.60 272.50,410.10 273.80,410.10 273.80,406.60 280.60,406.60 280.60,410.10 298.00,410.10 298.00,406.60 299.30,406.60 299.30,410.10 305.00,410.10 305.00,406.60 306.40,406.60 306.40,410.10 332.30,410.10 332.30,406.60 333.70,406.60 333.70,410.10 338.00,410.10 338.00,406.60 339.30,406.60 339.30,410.10 341.50,410.10 341.50,406.60 345.00,406.60 345.00,410.10 346.30,410.10 346.30,406.60 350.50,406.60 350.50,410.10 367.50,410.10 367.50,406.60 370.00,406.60 370.00,410.10 371.20,410.10 371.20,406.60 374.00,406.60 374.00,410.10 375.20,410.10 375.20,406.60 378.00,406.60 378.00,410.10 379.20,410.10 379.20,406.60 382.00,406.60 382.00,410.10 383.00,410.10 383.00,406.60 385.00,406.60 385.00,410.10 401.50,410.10 401.50,406.60 403.00,406.60 403.00,410.10 404.50,410.10 404.50,406.60 407.00,406.60 407.00,410.10 408.50,410.10 408.50,406.60 411.50,406.60 411.50,410.10 412.50,410.10 412.50,406.60 415.50,406.60 415.50,410.10 416.50,410.10 416.50,406.60 420.00,406.60 420.00,410.10 442.50,410.10 442.50,406.60 443.80,406.60 443.80,410.10 451.30,410.10 451.30,406.60 452.60,406.60 452.60,410.10 474.00,410.10 474.00,406.60 475.30,406.60 475.30,410.10 480.00,410.10 480.00,406.60 482.00,406.60 482.00,410.10 483.00,410.10 483.00,406.60 485.00,406.60 485.00,410.10 486.00,410.10 486.00,406.60 487.50,406.60 487.50,410.10 489.00,410.10" fill="none" stroke="#ff4040" stroke-width="1.0" stroke-linejoin="round" />
<polyline points="51.00,430.40 55.10,430.40 55.10,426.60 56.00,426.60 56.00,430.40 60.60,430.40 60.60,426.60 61.80,426.60 61.80,430.40 63.80,430.40 63.80,426.60 65.80,426.60 65.80,430.40 67.70,430.40 67.70,426.60 69.70,426.60 69.70,430.40 72.40,430.40 72.40,426.60 74.40,426.60 74.40,430.40 76.40,430.40 76.40,426.60 78.40,426.60 78.40,430.40 80.70,430.40 80.70,426.60 82.70,426.60 82.70,430.40 84.60,430.40 84.60,426.60 86.60,426.60 86.60,430.40 88.90,430.40 88.90,426.60 106.55,426.60 106.55,430.40 108.45,430.40 108.45,426.60 115.85,426.60 115.85,430.40 117.75,430.40 117.75,426.60 120.15,426.60 120.15,430.40 122.05,430.40 122.05,426.60 130.55,426.60 130.55,430.40 132.45,430.40 132.45,426.60 135.05,426.60 135.05,430.40 136.95,430.40 136.95,426.60 140.55,426.60 140.55,430.40 142.45,430.40 142.45,426.60 144.55,426.60 144.55,430.40 146.45,430.40 146.45,426.60 148.55,426.60 148.55,430.40 150.45,430.40 150.45,426.60 152.55,426.60 152.55,430.40 154.45,430.40 154.45,426.60 156.35,426.60 156.35,430.40 158.25,430.40 158.25,426.60 169.25,426.60 169.25,430.40 171.15,430.40 171.15,426.60 177.85,426.60 177.85,430.40 179.75,430.40 179.75,426.60 181.35,426.60 181.35,430.40 183.25,430.40 183.25,426.60 184.85,426.60 184.85,430.40 186.75,430.40 186.75,426.60 188.35,426.60 188.35,430.40 190.25,430.40 190.25,426.60 191.85,426.60 191.85,430.40 193.75,430.40 193.75,426.60 195.55,426.60 195.55,430.40 197.45,430.40 197.45,426.60 199.35,426.60 199.35,430.40 201.25,430.40 201.25,426.60 211.05,426.60 211.05,430.40 212.95,430.40 212.95,426.60 214.85,426.60 214.85,430.40 216.75,430.40 216.75,426.60 218.35,426.60 218.35,430.40 220.25,430.40 220.25,426.60 221.55,426.60 221.55,430.40 223.45,430.40 223.45,426.60 225.35,426.60 225.35,430.40 227.25,430.40 227.25,426.60 239.55,426.60 239.55,430.40 241.45,430.40 241.45,426.60 243.85,426.60 243.85,430.40 245.75,430.40 245.75,426.60 247.85,426.60 247.85,430.40 249.75,430.40 249.75,426.60 251.85,426.60 251.85,430.40 253.75,430.40 253.75,426.60 255.85,426.60 255.85,430.40 257.75,430.40 257.75,426.60 260.55,426.60 260.55,430.40 262.45,430.40 262.45,426.60 264.85,426.60 264.85,430.40 266.75,430.40 266.75,426.60 268.85,426.60 268.85,430.40 270.75,430.40 270.75,426.60 272.85,426.60 272.85,430.40 274.75,430.40 274.75,426.60 278.55,426.60 278.55,430.40 280.45,430.40 280.45,426.60 284.55,426.60 284.55,430.40 286.45,430.40 286.45,426.60 290.20,426.60 290.20,430.40 291.20,430.40 291.20,426.60 292.60,426.60 292.60,430.40 293.70,430.40 293.70,426.60 295.10,426.60 295.10,430.40 297.20,430.40 297.20,426.60 298.60,426.60 298.60,430.40 303.10,430.40 303.10,426.60 304.50,426.60 304.50,430.40 306.50,430.40 306.50,426.60 307.90,426.60 307.90,430.40 312.40,430.40 312.40,426.60 313.80,426.60 313.80,430.40 333.00,430.40 333.00,426.60 334.40,426.60 334.40,430.40 338.30,430.40 338.30,426.60 341.60,426.60 341.60,430.40 343.40,430.40 343.40,426.60 344.90,426.60 344.90,430.40 346.70,430.40 346.70,426.60 349.80,426.60 349.80,430.40 357.00,430.40 357.00,426.60 358.30,426.60 358.30,430.40 359.50,430.40 359.50,426.60 360.80,426.60 360.80,430.40 362.00,430.40 362.00,426.60 363.55,426.60 363.55,430.40 365.45,430.40 365.45,426.60 367.55,426.60 367.55,430.40 369.45,430.40 369.45,426.60 371.55,426.60 371.55,430.40 373.45,430.40 373.45,426.60 375.55,426.60 375.55,430.40 377.45,430.40 377.45,426.60 380.50,426.60 380.50,430.40 387.00,430.40 387.00,426.60 388.50,426.60 388.50,430.40 390.50,430.40 390.50,426.60 392.50,426.60 392.50,430.40 394.50,430.40 394.50,426.60 396.50,426.60 396.50,430.40 398.50,430.40 398.50,426.60 400.50,426.60 400.50,430.40 402.50,430.40 402.50,426.60 404.50,426.60 404.50,430.40 406.50,430.40 406.50,426.60 408.50,426.60 408.50,430.40 410.50,430.40 410.50,426.60 412.50,426.60 412.50,430.40 414.50,430.40 414.50,426.60 416.50,426.60 416.50,430.40 418.50,430.40 418.50,426.60 420.50,426.60 420.50,430.40 422.50,430.40 422.50,426.60 424.50,426.60 424.50,430.40 426.50,430.40 426.50,426.60 428.50,426.60 428.50,430.40 430.50,430.40 430.50,426.60 432.50,426.60 432.50,430.40 443.00,430.40 443.00,426.60 444.30,426.60 444.30,430.40 451.20,430.40 451.20,426.60 452.50,426.60 452.50,430.40 474.00,430.40 474.00,426.60 475.30,426.60 475.30,430.40 478.00,430.40 478.00,426.60 480.00,426.60 480.00,430.40 481.50,430.40 481.50,426.60 483.50,426.60 483.50,430.40 485.00,430.40 485.00,426.60 487.50,426.60 487.50,430.40 489.00,430.40" fill="none" stroke="#4646ff" stroke-width="1.0" stroke-linejoin="round" />
<polyline points="51.00,441.00 55.40,441.00 55.40,448.70 72.75,448.70 72.75,441.00 90.09,441.00 90.09,448.70 107.44,448.70 107.44,441.00 124.78,441.00 124.78,448.70 142.13,448.70 142.13,441.00 159.47,441.00 159.47,448.70 176.82,448.70 176.82,441.00 194.16,441.00 194.16,448.70 211.51,448.70 211.51,441.00 228.85,441.00 228.85,448.70 246.20,448.70 246.20,441.00 263.54,441.00 263.54,448.70 280.89,448.70 280.89,441.00 298.23,441.00 298.23,448.70 315.58,448.70 315.58,441.00 332.92,441.00 332.92,448.70 350.27,448.70 350.27,441.00 367.61,441.00 367.61,448.70 384.96,448.70 384.96,441.00 402.30,441.00 402.30,448.70 419.65,448.70 419.65,441.00 436.99,441.00 436.99,448.70 454.34,448.70 454.34,441.00 471.68,441.00 471.68,448.70 489.00,448.70" fill="none" stroke="#585858" stroke-width="1.05" stroke-linejoin="miter" />
</g>
<rect x="51.40" y="289.50" width="436.90" height="202.10" fill="none" stroke="#7c7c7c" stroke-width="1.1"/>
<line x1="49.20" y1="289.50" x2="51.40" y2="289.50" stroke="#7c7c7c" stroke-width="1.1" />
<line x1="49.20" y1="329.92" x2="51.40" y2="329.92" stroke="#7c7c7c" stroke-width="1.1" />
<line x1="49.20" y1="370.34" x2="51.40" y2="370.34" stroke="#7c7c7c" stroke-width="1.1" />
<line x1="49.20" y1="410.76" x2="51.40" y2="410.76" stroke="#7c7c7c" stroke-width="1.1" />
<line x1="49.20" y1="451.18" x2="51.40" y2="451.18" stroke="#7c7c7c" stroke-width="1.1" />
<line x1="49.20" y1="491.60" x2="51.40" y2="491.60" stroke="#7c7c7c" stroke-width="1.1" />
<line x1="82.40" y1="491.60" x2="82.40" y2="493.60" stroke="#7c7c7c" stroke-width="1.1" />
<line x1="178.30" y1="491.60" x2="178.30" y2="493.60" stroke="#7c7c7c" stroke-width="1.1" />
<line x1="275.10" y1="491.60" x2="275.10" y2="493.60" stroke="#7c7c7c" stroke-width="1.1" />
<line x1="372.20" y1="491.60" x2="372.20" y2="493.60" stroke="#7c7c7c" stroke-width="1.1" />
<line x1="467.80" y1="491.60" x2="467.80" y2="493.60" stroke="#7c7c7c" stroke-width="1.1" />
<text x="44.90" y="288.90" font-size="9.4" fill="#1a1a1a" font-weight="bold" text-anchor="end" font-family='"Liberation Sans", sans-serif' stroke="#1a1a1a" stroke-width="0.3" >40</text>
<text x="44.70" y="329.40" font-size="9.4" fill="#1a1a1a" font-weight="bold" text-anchor="end" font-family='"Liberation Sans", sans-serif' stroke="#1a1a1a" stroke-width="0.3" >30</text>
<text x="44.70" y="370.60" font-size="9.4" fill="#1a1a1a" font-weight="bold" text-anchor="end" font-family='"Liberation Sans", sans-serif' stroke="#1a1a1a" stroke-width="0.3" >20</text>
<text x="45.50" y="412.00" font-size="9.4" fill="#1a1a1a" font-weight="bold" text-anchor="end" font-family='"Liberation Sans", sans-serif' stroke="#1a1a1a" stroke-width="0.3" >10</text>
<text x="40.70" y="451.20" font-size="9.4" fill="#1a1a1a" font-weight="bold" text-anchor="end" font-family='"Liberation Sans", sans-serif' stroke="#1a1a1a" stroke-width="0.3" >0</text>
<text x="42.10" y="490.20" font-size="9.4" fill="#1a1a1a" font-weight="bold" text-anchor="end" font-family='"Liberation Sans", sans-serif' stroke="#1a1a1a" stroke-width="0.3" >-10</text>
<text x="86.70" y="506.80" font-size="8.8" fill="#1a1a1a" font-weight="bold" text-anchor="middle" font-family='"Liberation Sans", sans-serif' textLength="24.60" lengthAdjust="spacingAndGlyphs" stroke="#1a1a1a" stroke-width="0.3" >28000</text>
<text x="172.80" y="506.80" font-size="8.8" fill="#1a1a1a" font-weight="bold" text-anchor="middle" font-family='"Liberation Sans", sans-serif' textLength="24.60" lengthAdjust="spacingAndGlyphs" stroke="#1a1a1a" stroke-width="0.3" >29000</text>
<text x="269.40" y="506.80" font-size="8.8" fill="#1a1a1a" font-weight="bold" text-anchor="middle" font-family='"Liberation Sans", sans-serif' textLength="24.60" lengthAdjust="spacingAndGlyphs" stroke="#1a1a1a" stroke-width="0.3" >30000</text>
<text x="368.70" y="506.80" font-size="8.8" fill="#1a1a1a" font-weight="bold" text-anchor="middle" font-family='"Liberation Sans", sans-serif' textLength="24.60" lengthAdjust="spacingAndGlyphs" stroke="#1a1a1a" stroke-width="0.3" >31000</text>
<text x="464.50" y="506.80" font-size="8.8" fill="#1a1a1a" font-weight="bold" text-anchor="middle" font-family='"Liberation Sans", sans-serif' textLength="24.60" lengthAdjust="spacingAndGlyphs" stroke="#1a1a1a" stroke-width="0.3" >32000</text>
<text transform="translate(24.6,383.8) rotate(-90)" x="0" y="0" font-size="9.6" fill="#222" stroke="#222" stroke-width="0.3" text-anchor="middle" font-family='"DejaVu Sans", sans-serif' textLength="90.6" lengthAdjust="spacingAndGlyphs">Temperature (degC)</text>
<text x="273.20" y="522.10" font-size="9.3" fill="#222" font-weight="normal" text-anchor="middle" font-family='"DejaVu Sans", sans-serif' textLength="34.10" lengthAdjust="spacingAndGlyphs" stroke="#222" stroke-width="0.3" >Minutes</text>
<text x="217.7" y="544.6" font-size="12.8" fill="#111" stroke="#111" stroke-width="0.25" font-family='"Liberation Serif", serif' textLength="123.8" lengthAdjust="spacingAndGlyphs">(<tspan font-weight="bold">b</tspan>) Pre-trained RL model</text>
<line x1="133.90" y1="462.70" x2="149.30" y2="462.70" stroke="#ffc4cc" stroke-width="1.3" />
<text x="154.80" y="465.40" font-size="7.32" fill="#1a1a1a" font-weight="normal" text-anchor="start" font-family='"DejaVu Sans", sans-serif' stroke="#1a1a1a" stroke-width="0.32" >Outside Temperature</text>
<line x1="133.90" y1="474.10" x2="149.30" y2="474.10" stroke="#4646ff" stroke-width="1.3" />
<text x="154.80" y="476.80" font-size="7.32" fill="#1a1a1a" font-weight="normal" text-anchor="start" font-family='"DejaVu Sans", sans-serif' stroke="#1a1a1a" stroke-width="0.32" >Indoor_Air_Temperature Zone1</text>
<line x1="133.90" y1="485.00" x2="149.30" y2="485.00" stroke="#ff4040" stroke-width="1.3" />
<text x="154.80" y="487.70" font-size="7.32" fill="#1a1a1a" font-weight="normal" text-anchor="start" font-family='"DejaVu Sans", sans-serif' stroke="#1a1a1a" stroke-width="0.32" >Indoor_Air_Temperature Zone2</text>
<line x1="283.90" y1="462.70" x2="299.30" y2="462.70" stroke="#4646ff" stroke-width="1.3" />
<text x="305.10" y="465.40" font-size="7.32" fill="#1a1a1a" font-weight="normal" text-anchor="start" font-family='"DejaVu Sans", sans-serif' stroke="#1a1a1a" stroke-width="0.32" >Cool_on_1</text>
<line x1="283.90" y1="474.10" x2="299.30" y2="474.10" stroke="#ff4040" stroke-width="1.3" />
<text x="305.10" y="476.80" font-size="7.32" fill="#1a1a1a" font-weight="normal" text-anchor="start" font-family='"DejaVu Sans", sans-serif' stroke="#1a1a1a" stroke-width="0.32" >Cool_on_2</text>
<line x1="283.90" y1="485.00" x2="299.30" y2="485.00" stroke="#444" stroke-width="1.3" />
<text x="305.10" y="487.70" font-size="7.32" fill="#1a1a1a" font-weight="normal" text-anchor="start" font-family='"DejaVu Sans", sans-serif' stroke="#1a1a1a" stroke-width="0.32" >Price</text>
<line x1="356.90" y1="462.70" x2="372.30" y2="462.70" stroke="#4fb04f" stroke-width="1.3" />
<text x="377.50" y="465.40" font-size="7.32" fill="#1a1a1a" font-weight="normal" text-anchor="start" font-family='"DejaVu Sans", sans-serif' stroke="#1a1a1a" stroke-width="0.32" >schedule_LT</text>
<line x1="356.90" y1="474.10" x2="372.30" y2="474.10" stroke="#4fb04f" stroke-width="1.3" />
<text x="377.50" y="476.80" font-size="7.32" fill="#1a1a1a" font-weight="normal" text-anchor="start" font-family='"DejaVu Sans", sans-serif' stroke="#1a1a1a" stroke-width="0.32" >schedule_UT</text>
<line x1="0.00" y1="524.80" x2="500.00" y2="524.80" stroke="#ececec" stroke-width="0.8" />
<line x1="133.00" y1="457.20" x2="430.00" y2="457.20" stroke="#eeeeee" stroke-width="0.8" />
<text x="100.10" y="308.80" font-size="8.6" fill="#222" font-weight="normal" text-anchor="middle" font-family='"Liberation Sans", sans-serif' textLength="57.00" lengthAdjust="spacingAndGlyphs" stroke="#222" stroke-width="0.3" >75°F (23.89°C)</text>
<line x1="100.10" y1="314.60" x2="80.57" y2="351.57" stroke="#1a1a1a" stroke-width="1.1" />
<polygon points="79.50,353.60 79.66,350.52 81.96,351.73" fill="#1a1a1a"/>
<text x="100.10" y="385.20" font-size="8.6" fill="#222" font-weight="normal" text-anchor="middle" font-family='"Liberation Sans", sans-serif' textLength="57.00" lengthAdjust="spacingAndGlyphs" stroke="#222" stroke-width="0.3" >73°F (22.77°C)</text>
<line x1="100.10" y1="373.50" x2="92.52" y2="361.35" stroke="#1a1a1a" stroke-width="1.1" />
<polygon points="91.30,359.40 93.89,361.09 91.68,362.46" fill="#1a1a1a"/>
<text x="188.50" y="307.60" font-size="8.6" fill="#828282" font-weight="normal" text-anchor="middle" font-family='"Liberation Sans", sans-serif' textLength="70.10" lengthAdjust="spacingAndGlyphs" stroke="#828282" stroke-width="0.3" >Comfort violation</text>
<line x1="188.70" y1="313.20" x2="167.82" y2="343.11" stroke="#555" stroke-width="1.0" />
<polygon points="166.50,345.00 167.04,341.96 169.17,343.45" fill="#555"/>
<rect x="152.2" y="345.4" width="22.8" height="25.1" rx="3.5" fill="none" stroke="#808080" stroke-width="1.0" stroke-dasharray="3.3 2.4"/>
<text x="345.70" y="308.80" font-size="8.6" fill="#222" font-weight="normal" text-anchor="middle" font-family='"Liberation Sans", sans-serif' textLength="56.40" lengthAdjust="spacingAndGlyphs" stroke="#222" stroke-width="0.3" >73°F (22.77°C)</text>
<line x1="345.80" y1="314.00" x2="311.45" y2="356.41" stroke="#1a1a1a" stroke-width="1.1" />
<polygon points="310.00,358.20 310.75,355.21 312.77,356.84" fill="#1a1a1a"/>
<text x="345.50" y="385.40" font-size="8.6" fill="#222" font-weight="normal" text-anchor="middle" font-family='"Liberation Sans", sans-serif' textLength="57.60" lengthAdjust="spacingAndGlyphs" stroke="#222" stroke-width="0.3" >71°F (21.67°C)</text>
<line x1="346.20" y1="375.30" x2="336.99" y2="365.66" stroke="#1a1a1a" stroke-width="1.1" />
<polygon points="335.40,364.00 338.27,365.13 336.39,366.92" fill="#1a1a1a"/>
<text x="97.40" y="472.00" font-size="9.0" fill="#828282" font-weight="normal" text-anchor="middle" font-family='"Liberation Sans", sans-serif' textLength="73.50" lengthAdjust="spacingAndGlyphs" stroke="#828282" stroke-width="0.3" >Pre-cooling events</text>
<line x1="98.20" y1="459.70" x2="104.49" y2="433.82" stroke="#555" stroke-width="0.9" />
<polygon points="105.20,430.90 105.83,434.66 102.92,433.95" fill="#555"/>
<line x1="98.20" y1="459.70" x2="165.84" y2="412.71" stroke="#555" stroke-width="0.9" />
<polygon points="168.30,411.00 166.28,414.23 164.57,411.77" fill="#555"/>
<line x1="98.20" y1="459.70" x2="205.66" y2="411.53" stroke="#555" stroke-width="0.9" />
<polygon points="208.40,410.30 205.82,413.10 204.59,410.36" fill="#555"/>
</svg></body></html>
